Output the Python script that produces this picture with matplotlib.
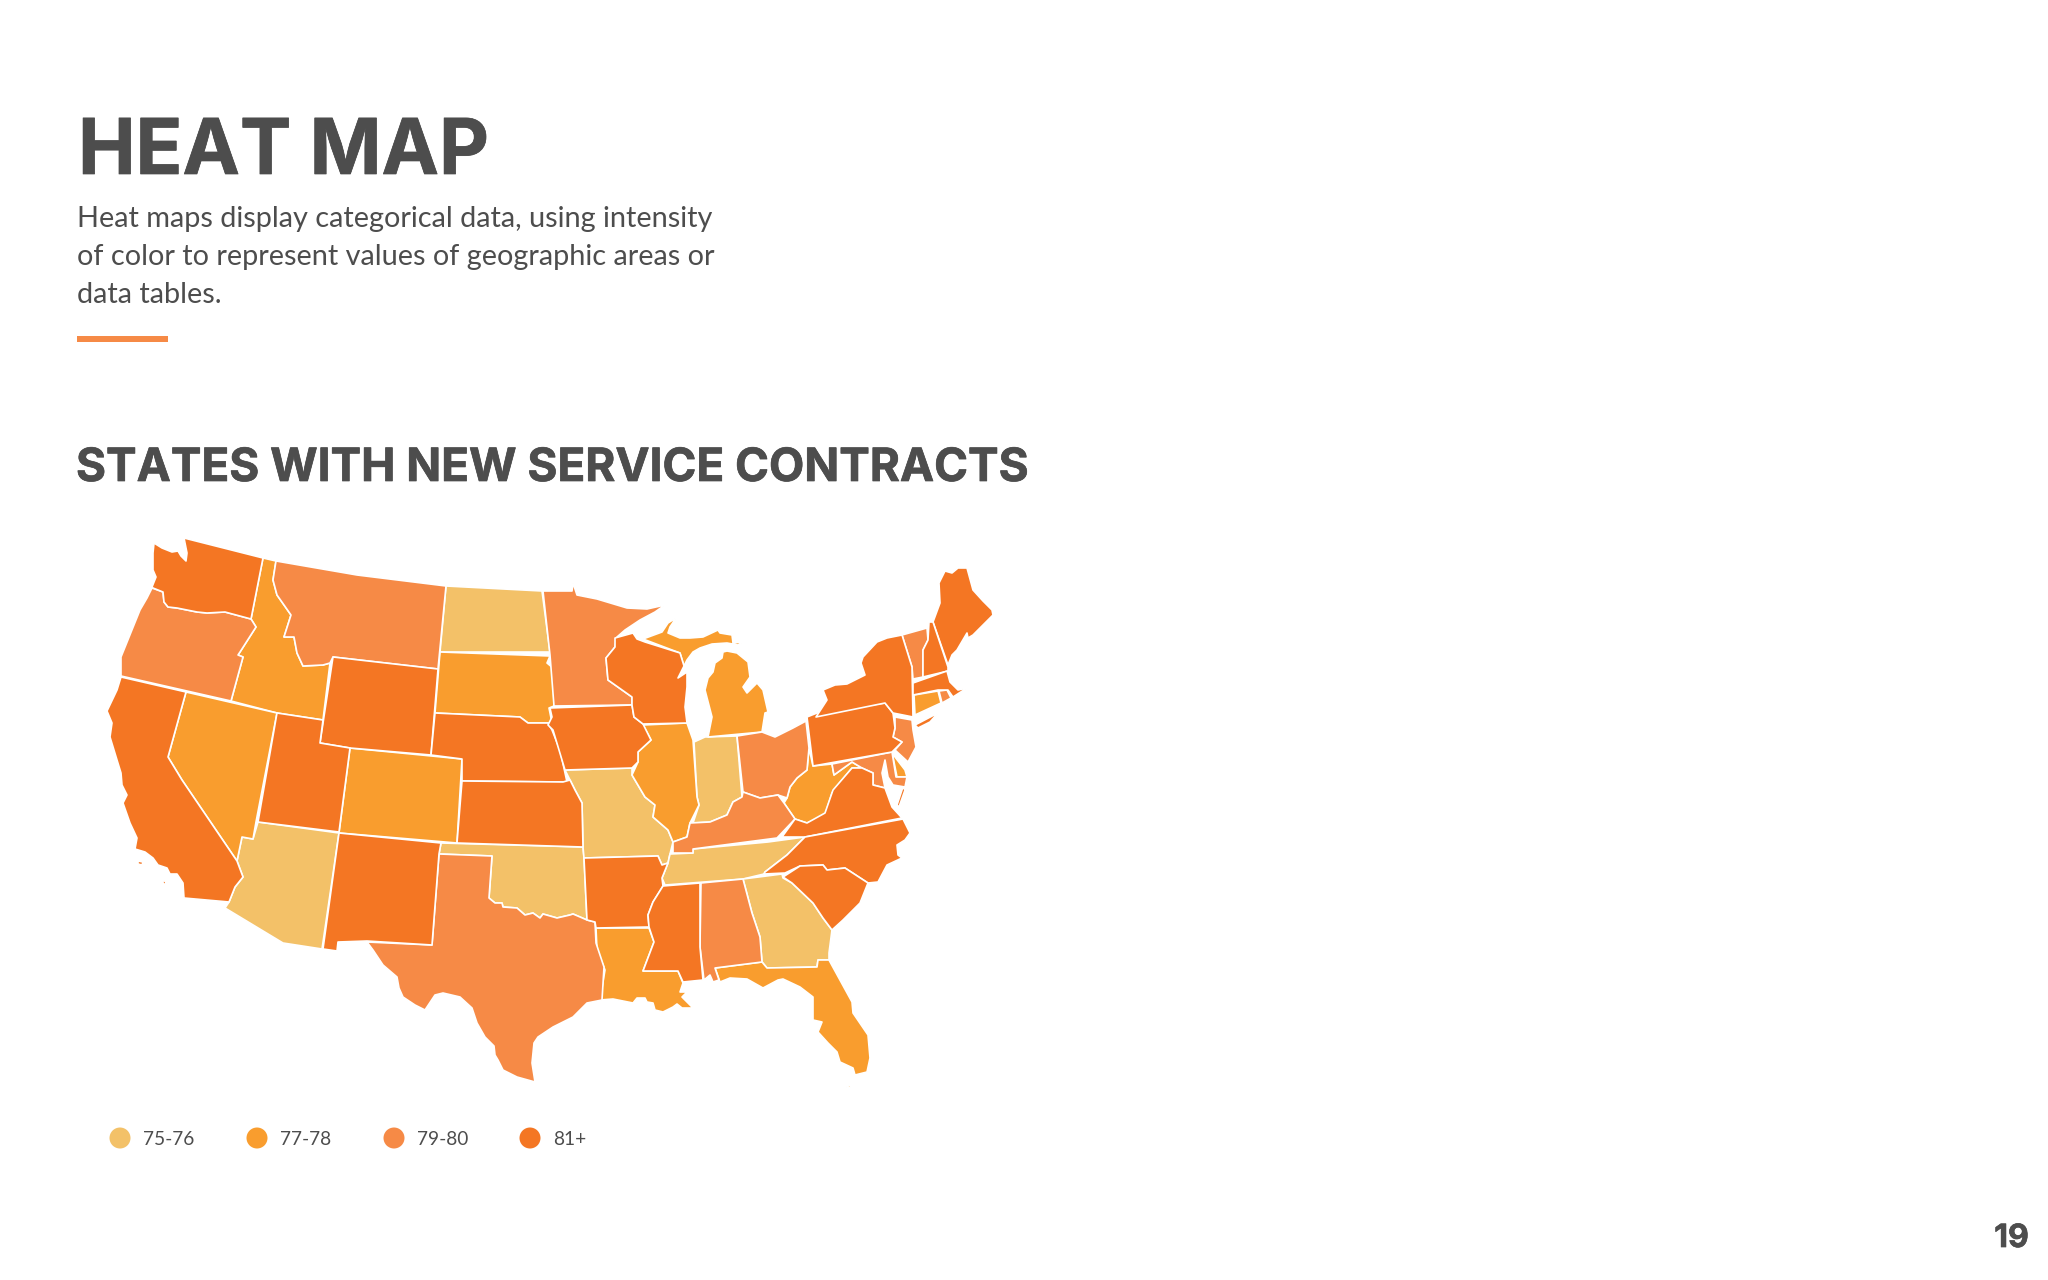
import matplotlib
matplotlib.use("Agg")
import matplotlib.pyplot as plt
import matplotlib.patheffects as pe
from matplotlib.patches import Circle, Rectangle, Polygon

TITLE = "HEAT MAP"
BODY = ["Heat maps display categorical data, using intensity",
        "of color to represent values of geographic areas or",
        "data tables."]
SUBTITLE = "STATES WITH NEW SERVICE CONTRACTS"
PAGE = "19"
BUCKETS = ["75-76", "77-78", "79-80", "81+"]
COLORS = ["#F3C168", "#F99D2E", "#F68A46", "#F47623"]
INK = "#4D4D4D"

# State outlines (image pixels)
RED_RIVER = [(489,898),(495,903),(502,903),(503,907),(517,908),(525,915),(533,913),(540,918),(543,914),(557,918),(570,915),(573,914),(587,920)]
WA = [(154,543),(162,548),(172,552),(178,551),(181,556),(186,561),(187,553),(184,538),(263,558),(251,619),(225,612),(207,613),(197,612),(177,608),(168,607),(164,602),(163,592),(153,588),(152,587),(156,577),(153,570),(153,553)]
OR = [(152,588),(163,592),(164,602),(168,607),(177,608),(197,612),(207,613),(225,612),(251,619),(256,627),(240,652),(238,655),(243,657),(231,701),(121,676),(121,657),(140,610),(147,598)]
CA = [(121,677),(186,692),(168,757),(182,780),(237,861),(243,877),(235,887),(229,902),(184,898),(183,883),(177,874),(170,874),(167,868),(158,865),(153,858),(145,852),(135,849),(137,838),(130,823),(123,803),(127,795),(122,785),(121,773),(117,760),(110,737),(112,723),(107,711),(117,690)]
CA_ISLE1 = [(138,861),(143,862),(142,865),(138,864)]
CA_ISLE2 = [(163,880),(166,882),(165,885),(163,883)]
NV = [(186,692),(277,713),(256,822),(253,839),(242,837),(237,861),(182,780),(168,757)]
ID = [(263,558),(276,561),(273,580),(277,595),(291,615),(284,637),(294,637),(297,653),(303,666),(323,665),(330,663),(323,720),(277,713),(231,701),(243,657),(238,655),(240,652),(256,627),(251,619)]
MT = [(276,561),(357,575),(446,586),(438,669),(333,657),(330,663),(323,665),(303,666),(297,653),(294,637),(284,637),(291,615),(277,595),(273,580)]
WY = [(333,657),(438,669),(431,755),(350,748),(320,743)]
UT = [(277,713),(323,720),(320,743),(350,748),(339,832),(258,822)]
CO = [(350,748),(462,759),(457,843),(339,833)]
AZ = [(258,822),(339,833),(322,949),(283,943),(225,908),(229,902),(235,887),(243,877),(237,861),(242,837),(253,839)]
NM = [(339,833),(441,843),(439,854),(432,945),(367,941),(338,942),(337,951),(323,949)]
TX = [(439,854),(492,856)] + RED_RIVER + [(595,922),(596,943),(604,967),(602,1000),(587,1003),(573,1017),(553,1027),(538,1037),(534,1043),(532,1063),(535,1082),(517,1077),(503,1070),(498,1060),(495,1055),(494,1046),(485,1037),(477,1023),(472,1008),(460,997),(443,993),(435,995),(425,1010),(415,1005),(403,997),(399,988),(397,977),(383,965),(373,950),(367,942),(432,945)]
OK = [(441,843),(583,847),(584,858)] + RED_RIVER[::-1] + [(492,856),(439,854)]
KS = [(462,781),(563,782),(570,780),(575,790),(582,803),(583,847),(457,843)]
NE = [(435,713),(520,717),(528,723),(548,723),(552,730),(560,750),(567,782),(462,781),(462,759),(431,755)]
SD = [(440,652),(550,656),(547,663),(553,668),(554,706),(549,708),(552,723),(548,723),(528,723),(520,717),(435,713)]
ND = [(446,586),(542,591),(550,652),(440,652)]
MN = [(543,591),(572,591),(573,583),(577,595),(597,599),(627,608),(647,609),(665,605),(655,612),(640,620),(625,630),(617,637),(615,647),(606,658),(608,680),(632,697),(632,705),(554,706),(550,655)]
WI = [(615,638),(633,633),(637,639),(645,642),(680,653),(684,666),(678,678),(687,672),(687,687),(685,707),(687,723),(643,724),(634,717),(632,705),(632,697),(608,680),(606,658),(615,647)]
MI_UP = [(643,639),(662,632),(668,623),(676,618),(670,627),(668,633),(680,638),(690,638),(703,637),(718,630),(720,633),(732,635),(733,643),(743,642),(738,645),(727,643),(712,644),(700,648),(693,652),(687,660),(684,666),(680,653)]
MI_LP = [(727,651),(737,653),(748,662),(750,677),(743,687),(747,693),(757,683),(763,690),(768,712),(765,713),(762,732),(708,737),(712,717),(705,690),(708,678),(713,672),(715,663),(722,658),(723,652)]
IA = [(550,708),(632,705),(634,717),(643,724),(651,740),(638,752),(638,762),(632,768),(565,770),(553,730),(548,725),(552,717)]
IL = [(643,725),(687,723),(693,740),(697,797),(699,805),(690,823),(687,837),(673,842),(668,830),(653,817),(655,805),(645,797),(632,775),(638,762),(638,752),(651,740)]
IN = [(694,742),(705,737),(737,736),(742,797),(733,802),(727,815),(710,822),(693,823),(699,805),(697,797)]
OH = [(737,736),(762,732),(775,737),(793,728),(806,721),(809,748),(807,770),(797,778),(790,787),(787,798),(778,795),(760,798),(743,792)]
KY = [(743,792),(760,798),(778,795),(784,803),(795,819),(777,838),(693,849),(693,853),(673,853),(673,842),(687,837),(690,823),(710,822),(727,815),(733,802),(742,797)]
WV = [(787,798),(790,787),(797,778),(807,770),(809,748),(813,766),(832,764),(834,775),(852,762),(862,768),(852,768),(838,785),(832,793),(825,815),(807,823),(795,819),(784,803)]
PA = [(807,717),(817,713),(885,703),(893,713),(895,728),(893,737),(902,742),(892,752),(813,766)]
NY = [(816,717),(827,700),(823,690),(835,685),(847,684),(865,675),(861,663),(863,657),(877,642),(887,638),(902,635),(912,667),(913,717),(893,713),(885,703)]
LONG_ISLAND = [(915,725),(938,713),(930,722),(918,728)]
NJ = [(895,717),(912,720),(913,730),(916,747),(908,762),(895,750),(902,742),(893,737),(895,728)]
VT = [(902,635),(927,628),(928,640),(923,650),(923,677),(913,679),(912,667)]
NH = [(929,622),(933,622),(948,667),(948,671),(923,677),(923,650),(928,640)]
ME = [(933,622),(940,603),(939,583),(945,571),(952,573),(958,568),(967,568),(973,590),(983,601),(992,610),(993,615),(980,628),(973,635),(968,638),(967,633),(957,650),(952,655),(948,665)]
MA = [(913,683),(947,671),(950,682),(958,690),(967,688),(953,697),(948,690),(938,690),(913,695)]
CT = [(914,695),(938,691),(941,703),(915,715)]
RI = [(939,691),(947,690),(951,698),(942,703)]
MD = [(832,764),(892,752),(896,777),(907,777),(905,787),(893,785),(888,777),(885,760),(882,773),(885,788),(873,785),(873,773),(862,768),(852,762),(834,775)]
DE = [(892,752),(895,757),(905,770),(907,777),(897,777)]
VA = [(782,837),(795,819),(807,823),(825,813),(833,790),(852,768),(862,768),(873,773),(873,785),(885,788),(892,807),(902,818),(805,837)]
VA_SHORE = [(903,787),(905,790),(899,807),(897,805)]
NC = [(903,819),(910,833),(905,840),(897,845),(898,855),(902,858),(887,865),(878,882),(868,883),(845,868),(827,870),(823,865),(800,866),(785,873),(764,874),(765,872),(787,855),(805,837)]
SC = [(783,877),(800,866),(823,865),(827,870),(845,868),(868,883),(860,903),(843,920),(832,930),(823,918),(813,903),(792,883)]
GA = [(743,879),(782,874),(783,878),(792,883),(813,903),(823,918),(832,930),(829,953),(829,960),(818,960),(817,967),(767,968),(762,962),(760,937),(752,913)]
TN = [(670,854),(693,853),(693,849),(768,842),(805,837),(787,855),(765,872),(764,874),(743,879),(665,885),(662,878),(668,863)]
AR = [(584,858),(658,856),(662,865),(668,863),(662,878),(663,886),(653,902),(648,915),(649,927),(596,928),(595,922),(587,920)]
MO = [(565,770),(632,768),(632,775),(645,797),(655,805),(653,817),(668,830),(673,842),(670,854),(668,863),(662,865),(658,856),(584,858),(583,847),(582,803),(575,790)]
LA = [(596,928),(649,928),(654,942),(643,971),(678,971),(683,983),(680,992),(687,992),(682,997),(687,1002),(693,1008),(682,1008),(677,1004),(673,1007),(663,1012),(655,1010),(653,1003),(647,1002),(645,998),(637,998),(633,1003),(613,999),(600,1000),(605,970),(597,950)]
MS = [(663,886),(700,883),(700,947),(703,980),(683,982),(678,971),(643,971),(654,942),(649,927),(648,915),(653,902)]
AL = [(701,883),(743,879),(752,913),(760,937),(762,962),(715,968),(719,980),(713,982),(710,975),(704,980),(700,947)]
FL = [(715,968),(762,962),(767,968),(817,967),(818,960),(829,960),(852,1002),(853,1013),(868,1035),(870,1058),(867,1072),(855,1075),(853,1068),(840,1062),(837,1052),(828,1043),(818,1032),(822,1022),(813,1020),(813,997),(800,987),(783,979),(778,980),(763,988),(747,979),(730,978),(720,982)]
FL_KEYS = [(846,1087),(851,1085),(850,1088)]

BUCKET_75 = [ND, AZ, OK, MO, IN, TN, GA]
BUCKET_77 = [ID, NV, SD, CO, IL, MI_UP, MI_LP, WV, LA, FL, FL_KEYS, CT, DE]
BUCKET_79 = [OR, MT, MN, TX, OH, KY, AL, VT, NJ, MD, RI]
BUCKET_81 = [WA, CA, CA_ISLE1, CA_ISLE2, WY, UT, NE, KS, NM, IA, WI, AR, MS, PA, NY, LONG_ISLAND, ME, NH, MA, VA, VA_SHORE, NC, SC]

fig = plt.figure(figsize=(20.48, 12.8), dpi=100, facecolor="white")
ax = fig.add_axes([0, 0, 1, 1])
ax.set_xlim(0, 2048)
ax.set_ylim(1280, 0)
ax.axis("off")

for bucket, color in zip([BUCKET_75, BUCKET_77, BUCKET_79, BUCKET_81], COLORS):
    for shape in bucket:
        ax.add_patch(Polygon(shape, closed=True, facecolor=color, edgecolor="white",
                             linewidth=1.2, joinstyle="round"))

heavy = [pe.withStroke(linewidth=0.5, foreground=INK)]
ax.text(78, 174, TITLE, family="Inter", weight="bold", fontsize=55.5, color=INK, va="baseline", path_effects=heavy)
for y, line in zip([227, 265, 303], BODY):
    ax.text(77, y, line, family="Lato", fontsize=20.8, color=INK, va="baseline")
ax.add_patch(Rectangle((77, 336), 91, 6, facecolor="#F68A46", edgecolor="none"))
ax.text(76, 481, SUBTITLE, family="Inter", weight="bold", fontsize=33, color=INK, va="baseline", path_effects=heavy)

for cx, tx, label, color in zip([120, 257, 394, 530], [143, 280, 417, 553], BUCKETS, COLORS):
    ax.add_patch(Circle((cx, 1138), 10.5, facecolor=color, edgecolor="none"))
    ax.text(tx, 1145, label, family="Lato", fontsize=13.8, color=INK, va="baseline")

ax.text(2029, 1247, PAGE, family="Inter", weight="bold", fontsize=23, color=INK, ha="right", va="baseline", path_effects=heavy)

fig.savefig("out.png", dpi=100, facecolor="white")
